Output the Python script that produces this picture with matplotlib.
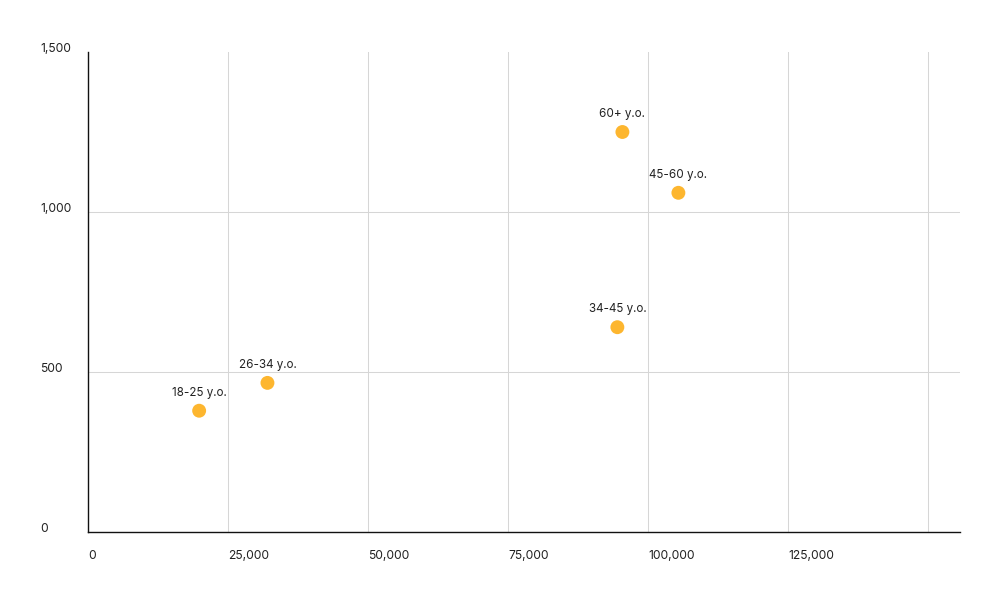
import matplotlib
matplotlib.use("Agg")
import matplotlib.pyplot as plt
import matplotlib.transforms as mtransforms

# Data
groups = ["18-25 y.o.", "26-34 y.o.", "34-45 y.o.", "45-60 y.o.", "60+ y.o."]
x_values = [19800, 32000, 94500, 105400, 95400]
y_values = [380, 467, 641, 1061, 1251]

x_ticks = [0, 25000, 50000, 75000, 100000, 125000, 150000]
x_tick_labels = ["0", "25,000", "50,000", "75,000", "100,000", "125,000", ""]
y_ticks = [0, 500, 1000, 1500]
y_tick_labels = ["0", "500", "1,000", "1,500"]

plt.rcParams['font.family'] = ['Inter', 'DejaVu Sans']
text_color = "#222222"
fs = 8.7

fig = plt.figure(figsize=(10, 6), dpi=100)
ax = fig.add_axes([0.0883, 0.1128, 0.8717, 0.80])

ax.scatter(x_values, y_values, s=100, color="#FDB62F", edgecolors="none", zorder=3)
for g, x, y in zip(groups, x_values, y_values):
    ax.annotate(g, (x, y), xytext=(0, 10.6), textcoords="offset points",
                ha="center", va="baseline", fontsize=8.4, color=text_color, zorder=4)

ax.set_xlim(0, 155700)
ax.set_ylim(0, 1500)
ax.set_xticks(x_ticks)
ax.set_xticklabels(x_tick_labels)
ax.set_yticks(y_ticks)
ax.set_yticklabels(y_tick_labels)

ax.tick_params(axis="both", length=0, labelsize=fs, labelcolor=text_color)
ax.tick_params(axis="y", pad=34.6)
ax.tick_params(axis="x", pad=13)
for lab in ax.get_yticklabels():
    lab.set_horizontalalignment("left")
    lab.set_transform(lab.get_transform() + mtransforms.ScaledTranslation(0, 5/100, fig.dpi_scale_trans))
for lab in ax.get_xticklabels():
    lab.set_horizontalalignment("left")

ax.grid(True, color="#d6d6d6", linewidth=0.75, zorder=0)
ax.set_axisbelow(True)
ygl = ax.yaxis.get_gridlines()
ygl[0].set_visible(False)
ygl[-1].set_visible(False)
ax.xaxis.get_gridlines()[0].set_visible(False)

for s in ["top", "right"]:
    ax.spines[s].set_visible(False)
for s in ["left", "bottom"]:
    ax.spines[s].set_color("#111111")
    ax.spines[s].set_linewidth(1.0)

fig.savefig("out.png", dpi=100, facecolor="white")
